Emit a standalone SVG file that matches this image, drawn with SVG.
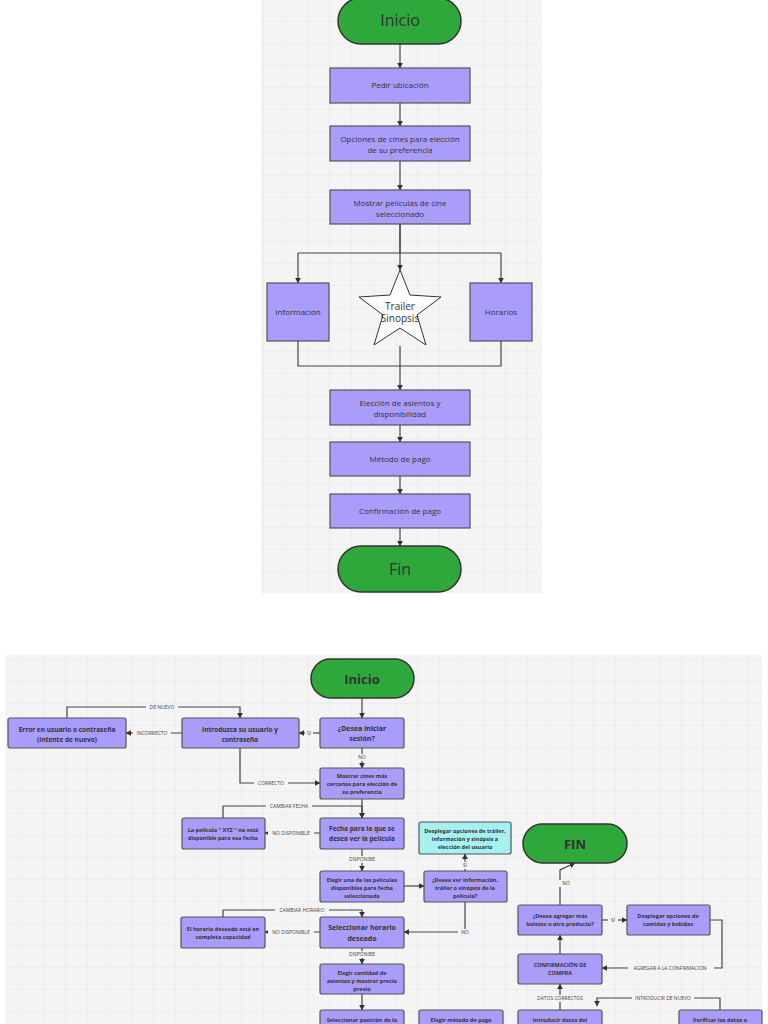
<svg xmlns="http://www.w3.org/2000/svg" width="768" height="1024" viewBox="0 0 768 1024">
<defs>
<pattern id="g" width="22" height="22" patternUnits="userSpaceOnUse"><path d="M22 0V22H0" fill="none" stroke="#e2e2e2" stroke-width="0.8"/></pattern>
<marker id="a" viewBox="0 0 10 10" refX="9" refY="5" markerWidth="5" markerHeight="5" orient="auto"><path d="M0 0L10 5L0 10z" fill="#333"/></marker>
<style>
.b{fill:#a99cfb;stroke:#555;stroke-width:1.2}
.t{fill:#a6f0ef}
.p{fill:#2ea83a;stroke:#333;stroke-width:1.5}
text{font-family:"Open Sans","Liberation Sans",sans-serif;text-anchor:middle;fill:#333}
.s{font-size:8px}
.x{font-size:5.5px;font-weight:bold}
.l{font-size:5px;fill:#444}
.c path,.c polyline{fill:none;stroke:#444;stroke-width:1.2;marker-end:url(#a)}
.c .n{marker-end:none}
</style>
</defs>
<rect width="768" height="1024" fill="#fff"/>
<rect x="261" y="0" width="281" height="593" fill="#f4f4f4"/>
<rect x="261" y="0" width="281" height="593" fill="url(#g)"/>
<rect x="5" y="655" width="757" height="369" fill="#f4f4f4"/>
<rect x="5" y="655" width="757" height="369" fill="url(#g)"/>

<g class="c">
<path d="M400 44V68"/><path d="M400 103V126"/><path d="M400 161V190"/>
<path class="n" d="M400 224V253M298 253H501"/><path d="M298 253V283"/><path d="M501 253V283"/><path d="M400 224V270"/>
<path class="n" d="M298 341V366H501V341M400 346V366"/><path d="M400 366V390"/>
<path d="M400 425V442"/><path d="M400 476V494"/><path d="M400 528V546"/>

<path d="M362 698V718"/>
<path d="M320 733H299"/><path d="M182 733H126"/>
<path d="M67 718V707H240V718"/>
<path d="M240 748V783H320"/>
<path d="M362 748V768"/><path d="M362 799V818"/>
<path d="M223 818V806H362V818"/>
<path d="M320 833H265"/>
<path d="M362 849V871"/>
<path d="M404 886H424"/>
<path d="M465 871V854"/>
<path d="M465 902V932H404"/>
<path d="M223 917V910H362V917"/>
<path d="M320 932H265"/>
<path d="M362 948V964"/><path d="M362 994V1010"/>
<path d="M560 1010V984"/><path d="M560 954V935"/>
<path d="M560 905V870L575 863"/>
<path d="M602 920H627"/>
<path d="M710 920H722V968H602"/>
<path d="M720 1010V998H597V1006"/>
</g>

<g id="t-inicio"><rect class="p" x="338" y="-2" width="123" height="46" rx="23"/><text x="400" y="26" style="font-size:16px">Inicio</text></g>
<g id="t1"><rect class="b" x="330" y="68" width="140" height="35"/><text class="s" x="400" y="88">Pedir ubicación</text></g>
<g id="t2"><rect class="b" x="330" y="126" width="140" height="35"/><text class="s" x="400" y="142">Opciones de cines para elección</text><text class="s" x="400" y="153">de su preferencia</text></g>
<g id="t3"><rect class="b" x="330" y="190" width="140" height="34"/><text class="s" x="400" y="206">Mostrar películas de cine</text><text class="s" x="400" y="217">seleccionado</text></g>
<g id="t4"><rect class="b" x="267" y="283" width="62" height="58"/><text class="s" x="298" y="315">Información</text></g>
<g id="t5"><polygon points="400,270 410,295 441,297 417,315 426,345 400,328 374,345 383,315 359,297 390,295" fill="#fff" stroke="#333" stroke-width="1"/><text x="400" y="310" style="font-size:10px">Trailer</text><text x="400" y="322" style="font-size:10px">Sinopsis</text></g>
<g id="t6"><rect class="b" x="470" y="283" width="62" height="58"/><text class="s" x="501" y="315">Horarios</text></g>
<g id="t7"><rect class="b" x="330" y="390" width="140" height="35"/><text class="s" x="400" y="406">Elección de asientos y</text><text class="s" x="400" y="417">disponibilidad</text></g>
<g id="t8"><rect class="b" x="330" y="442" width="140" height="34"/><text class="s" x="400" y="462">Método de pago</text></g>
<g id="t9"><rect class="b" x="330" y="494" width="140" height="34"/><text class="s" x="400" y="514">Confirmación de pago</text></g>
<g id="t-fin"><rect class="p" x="338" y="546" width="123" height="46" rx="23"/><text x="400" y="575" style="font-size:16px">Fin</text></g>

<g id="inicio"><rect class="p" x="311" y="659" width="103" height="39" rx="19.5"/><text x="362" y="684" style="font-size:13px;font-weight:bold">Inicio</text></g>
<g id="n1"><rect class="b" x="320" y="718" width="84" height="30" rx="2"/><text x="362" y="731" style="font-size:7px;font-weight:bold">¿Desea iniciar</text><text x="362" y="741" style="font-size:7px;font-weight:bold">sesión?</text></g>
<g id="n2"><rect class="b" x="182" y="718" width="117" height="30" rx="2"/><text x="240" y="732" style="font-size:6.5px;font-weight:bold">Introduzca su usuario y</text><text x="240" y="742" style="font-size:6.5px;font-weight:bold">contraseña</text></g>
<g id="n3"><rect class="b" x="8" y="718" width="118" height="30" rx="2"/><text x="67" y="732" style="font-size:6.5px;font-weight:bold">Error en usuario o contraseña</text><text x="67" y="742" style="font-size:6.5px;font-weight:bold">(Intente de nuevo)</text></g>
<g id="n4"><rect class="b" x="320" y="768" width="84" height="31" rx="2"/><text class="x" x="362" y="778">Mostrar cines más</text><text class="x" x="362" y="786">cercanos para elección de</text><text class="x" x="362" y="794">su preferencia</text></g>
<g id="n5"><rect class="b" x="320" y="818" width="84" height="31" rx="2"/><text x="362" y="831" style="font-size:6.5px;font-weight:bold">Fecha para la que se</text><text x="362" y="841" style="font-size:6.5px;font-weight:bold">desea ver la película</text></g>
<g id="n6"><rect class="b" x="182" y="818" width="83" height="31" rx="2"/><text class="x" x="223" y="832">La película " XYZ " no está</text><text class="x" x="223" y="840">disponible para esa fecha</text></g>
<g id="n7"><rect class="b" x="320" y="871" width="84" height="31" rx="2"/><text class="x" x="362" y="882">Elegir una de las películas</text><text class="x" x="362" y="890">disponibles para fecha</text><text class="x" x="362" y="898">seleccionada</text></g>
<g id="n8"><rect class="b" x="424" y="871" width="83" height="31" rx="2"/><text class="x" x="465" y="882">¿Desea ver información,</text><text class="x" x="465" y="890">tráiler o sinópsis de la</text><text class="x" x="465" y="898">película?</text></g>
<g id="n9"><rect class="b t" x="419" y="822" width="92" height="32" rx="2"/><text class="x" x="465" y="833">Desplegar opciones de tráiler,</text><text class="x" x="465" y="841">información y sinópsis a</text><text class="x" x="465" y="849">elección del usuario</text></g>
<g id="n10"><rect class="b" x="320" y="917" width="84" height="31" rx="2"/><text x="362" y="930" style="font-size:7px;font-weight:bold">Seleccionar horario</text><text x="362" y="941" style="font-size:7px;font-weight:bold">deseado</text></g>
<g id="n11"><rect class="b" x="181" y="917" width="84" height="31" rx="2"/><text class="x" x="223" y="931">El horario deseado está en</text><text class="x" x="223" y="939">completa capacidad</text></g>
<g id="n12"><rect class="b" x="320" y="964" width="84" height="30" rx="2"/><text class="x" x="362" y="975">Elegir cantidad de</text><text class="x" x="362" y="983">asientos y mostrar precio</text><text class="x" x="362" y="991">previo</text></g>
<g id="n13"><rect class="b" x="320" y="1010" width="84" height="20" rx="2"/><text class="x" x="362" y="1022">Seleccionar posición de lo</text></g>
<g id="n14"><rect class="b" x="419" y="1010" width="84" height="20" rx="2"/><text class="x" x="461" y="1022">Elegir método de pago</text></g>
<g id="n15"><rect class="b" x="518" y="1010" width="84" height="20" rx="2"/><text class="x" x="560" y="1022">Introducir datos del</text></g>
<g id="n16"><rect class="b" x="679" y="1010" width="83" height="20" rx="2"/><text class="x" x="720" y="1022">Verificar los datos o</text></g>
<g id="fin"><rect class="p" x="523" y="824" width="104" height="39" rx="19.5"/><text x="575" y="849" style="font-size:13px;font-weight:bold">FIN</text></g>
<g id="n17"><rect class="b" x="518" y="905" width="84" height="30" rx="2"/><text class="x" x="560" y="918">¿Desea agregar más</text><text class="x" x="560" y="926">boletos u otro producto?</text></g>
<g id="n18"><rect class="b" x="627" y="905" width="83" height="30" rx="2"/><text class="x" x="668" y="918">Desplegar opciones de</text><text class="x" x="668" y="926">comidas y bebidas</text></g>
<g id="n19"><rect class="b" x="518" y="954" width="84" height="30" rx="2"/><text class="x" x="560" y="967">CONFIRMACIÓN DE</text><text class="x" x="560" y="975">COMPRA</text></g>

<g id="labels">
<rect x="146" y="704" width="32" height="7" fill="#f4f4f4"/><text class="l" x="162" y="709">DE NUEVO</text>
<rect x="133" y="730" width="38" height="7" fill="#f4f4f4"/><text class="l" x="152" y="735">INCORRECTO</text>
<rect x="305" y="730" width="8" height="7" fill="#f4f4f4"/><text class="l" x="309" y="735">SI</text>
<rect x="254" y="780" width="34" height="7" fill="#f4f4f4"/><text class="l" x="271" y="785">CORRECTO</text>
<rect x="354" y="754" width="14" height="7" fill="#f4f4f4"/><text class="l" x="362" y="759">NO</text>
<rect x="266" y="803" width="46" height="7" fill="#f4f4f4"/><text class="l" x="289" y="808">CAMBIAR FECHA</text>
<rect x="268" y="830" width="46" height="7" fill="#f4f4f4"/><text class="l" x="291" y="835">NO DISPONIBLE</text>
<rect x="345" y="856" width="34" height="7" fill="#f4f4f4"/><text class="l" x="362" y="861">DISPONIBE</text>
<rect x="460" y="862" width="10" height="7" fill="#f4f4f4"/><text class="l" x="465" y="867">SÍ</text>
<rect x="275" y="907" width="54" height="7" fill="#f4f4f4"/><text class="l" x="302" y="912">CAMBIAR HORARIO</text>
<rect x="268" y="929" width="46" height="7" fill="#f4f4f4"/><text class="l" x="291" y="934">NO DISPONIBLE</text>
<rect x="458" y="929" width="14" height="7" fill="#f4f4f4"/><text class="l" x="465" y="934">NO</text>
<rect x="345" y="951" width="34" height="7" fill="#f4f4f4"/><text class="l" x="362" y="956">DISPONIBE</text>
<rect x="559" y="880" width="14" height="7" fill="#f4f4f4"/><text class="l" x="566" y="885">NO</text>
<rect x="608" y="917" width="10" height="7" fill="#f4f4f4"/><text class="l" x="613" y="922">SÍ</text>
<rect x="628" y="965" width="86" height="7" fill="#f4f4f4"/><text class="l" x="670" y="970">AGREGAR A LA CONFIRMACIÓN</text>
<rect x="533" y="995" width="54" height="7" fill="#f4f4f4"/><text class="l" x="560" y="1000">DATOS CORRECTOS</text>
<rect x="632" y="995" width="62" height="7" fill="#f4f4f4"/><text class="l" x="663" y="1000">INTRODUCIR DE NUEVO</text>
</g>
</svg>
